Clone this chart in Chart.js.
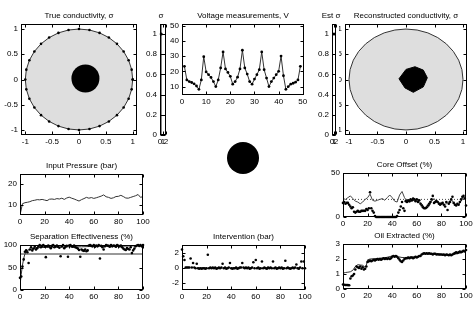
<!DOCTYPE html>
<html><head><meta charset="utf-8">
<script src="https://cdn.jsdelivr.net/npm/chart.js@4.4.1/dist/chart.umd.min.js"></script>
<style>
html,body{margin:0;padding:0;background:#fff}
#root{position:relative;width:474px;height:325px;overflow:hidden;background:#fff}
canvas{position:absolute}
</style></head>
<body><div id="root"></div>
<script>
// ---------------- data ----------------
const ringX = [1,0.981,0.924,0.831,0.707,0.556,0.383,0.195,0,-0.195,-0.383,-0.556,-0.707,-0.831,-0.924,-0.981,-1,-0.981,-0.924,-0.831,-0.707,-0.556,-0.383,-0.195,0,0.195,0.383,0.556,0.707,0.831,0.924,0.981,1];
const ringY = [0,0.195,0.383,0.556,0.707,0.831,0.924,0.981,1,0.981,0.924,0.831,0.707,0.556,0.383,0.195,0,-0.195,-0.383,-0.556,-0.707,-0.831,-0.924,-0.981,-1,-0.981,-0.924,-0.831,-0.707,-0.556,-0.383,-0.195,0];
const trueIncX = [0.12];
const trueIncY = [0.02];
const recIncX = [0,0.158,0.304,0.374,0.304,0.128,-0.018,-0.123,0];
const recIncY = [0.2,0.253,0.186,0.034,-0.146,-0.254,-0.166,0.014,0.2];
const sigmaBarX = [0.4];
const sigmaBarY = [1];
const estBarX = [1];
const estBarY = [1];
const centerDotX = [1];
const centerDotY = [1];

const voltX = [1,2,3,4,5,6,7,8,9,10,11,12,13,14,15,16,17,18,19,20,21,22,23,24,25,26,27,28,29,30,31,32,33,34,35,36,37,38,39,40,41,42,43,44,45,46,47,48,49];
const voltY = [23.3,14.4,13.3,12.7,11.8,10.4,8.2,14.4,29.6,19.6,17.8,16,13.3,10,14.4,22.2,32.7,21.6,19.3,16.7,11.6,13.3,16.2,21.6,33.8,22.2,18.2,13.3,11.6,14.9,17.8,21.1,32.7,21.1,15.6,10,13.3,15.6,17.8,20,30,17.1,8.2,10,11.6,12.2,12.9,14.4,23.3];

const x101 = [0,1,2,3,4,5,6,7,8,9,10,11,12,13,14,15,16,17,18,19,20,21,22,23,24,25,26,27,28,29,30,31,32,33,34,35,36,37,38,39,40,41,42,43,44,45,46,47,48,49,50,51,52,53,54,55,56,57,58,59,60,61,62,63,64,65,66,67,68,69,70,71,72,73,74,75,76,77,78,79,80,81,82,83,84,85,86,87,88,89,90,91,92,93,94,95,96,97,98,99,100];
const x51 = [0,2,4,6,8,10,12,14,16,18,20,22,24,26,28,30,32,34,36,38,40,42,44,46,48,50,52,54,56,58,60,62,64,66,68,70,72,74,76,78,80,82,84,86,88,90,92,94,96,98,100];

const pressureY = [5,10.5,11,11.2,11.5,12,12.2,12.5,12.4,12.6,12.3,12,12.7,12.8,12.6,13,12.8,13.2,12.6,13.3,13.7,13.2,12.8,12.3,11.8,12.5,13,13.6,13.2,13.5,13.1,13.4,13.8,14.2,14.8,13.9,13.6,13.1,13.4,14,14.1,14.6,14,13.3,13.2,13.6,14,14.4,15,13.6,14];

const coreLineY = [21,20,22,24,21,18,17,15,17,20,22,26,19,18,19,20,21,19,22,25,22,18,17,25,29,22,18,17,18,19,20,17,15,11,10,12,18,21,17,16,16,14,15,17,20,16,14,14,18,23,20];
const coreDotY = [16,17,15,16,16,14,12,10,11,6,5,6,7,6,6,7,7,7,7,9,8,10,28,10,7,5,1,0,0,0,0,0,0,0,0,0,0,0,0,0,0,0,0,0,1,5,8,12,17,10,7,18,17,19,18,20,19,21,20,18,20,17,19,15,13,11,10,10,11,13,15,17,20,24,16,17,18,17,15,14,15,16,14,12,17,8,15,17,20,23,16,14,13,15,14,17,20,23,24,21,13];
const coreRefX = [0,100];
const coreRefY = [20,20];

const sepLineX = [0,1,2,3,4,5,6,8,10,15,20,30,40,50,60,70,80,90,100];
const sepLineY = [10,35,55,70,80,85,88,90,92,94,95,95,96,96,97,97,97,98,98];
const sepDotY = [27,30,52,68,85,88,84,60,90,95,88,92,96,90,93,97,100,95,98,100,96,73,97,99,96,93,98,100,95,97,99,96,94,75,97,100,93,96,98,74,99,100,97,96,99,95,94,92,89,74,90,88,87,90,86,88,99,100,98,97,100,96,99,97,100,70,98,95,90,97,100,99,98,96,100,97,99,98,96,100,98,97,99,95,92,90,89,93,91,90,95,82,88,92,97,99,100,98,100,97,100];
const sepRefX = [0,100];
const sepRefY = [80,80];

const intervY = [2.4,1.5,1.0,0,0,0,0,1.2,0,0.6,0,-0.1,0.5,-0.1,-0.15,-0.1,-0.15,-0.1,-0.1,-0.15,-0.1,1.7,-0.1,0,-0.1,0,-0.1,0,-0.15,-0.1,0,-0.1,0,0.5,-0.1,0,-0.15,-0.1,0,0.6,-0.1,-0.15,-0.1,-0.1,0,-0.15,-0.1,0,0,0.6,0,-0.1,0,-0.1,0,-0.15,-0.1,0,0.7,-0.1,1.0,-0.1,0,-0.15,-0.1,0.8,-0.1,0,-0.1,-0.15,0,-0.1,0,-0.1,0.8,-0.1,0,-0.15,-0.1,0,-0.1,0,-0.15,-0.1,0.9,-0.1,0,-0.1,-0.15,-0.1,0,-0.1,0,0.4,-0.1,-0.15,0,0.8,-0.1,0.8,-0.1];

const oilLineX = [0,2,4,6,8,10,12,14,16,18,19,20,22,25,30,35,40,42,45,48,50,55,60,62,65,70,75,80,85,90,95,100];
const oilLineY = [1.05,1.1,1.12,1.15,1.25,1.5,1.62,1.6,1.58,1.45,1.6,1.95,2.0,2.02,2.05,2.1,2.2,2.2,2.15,2.1,2.1,2.12,2.15,2.2,2.35,2.35,2.32,2.3,2.28,2.3,2.4,2.55];
const oilDotY = [0.3,0.28,0.27,0.27,0.26,0.25,0.7,0.85,0.9,1.0,1.3,1.5,1.45,1.4,1.5,1.35,1.45,1.3,1.35,1.5,1.8,1.85,1.9,1.85,1.9,1.95,1.9,1.95,2.0,1.95,2.0,1.95,2.0,2.05,2.0,2.05,2.0,2.05,2.0,2.05,2.15,2.2,2.15,2.2,2.15,2.05,1.95,1.85,1.8,1.9,2.0,2.05,2.05,2.1,2.05,2.1,2.1,2.05,2.1,2.15,2.1,2.15,2.2,2.2,2.3,2.35,2.38,2.35,2.38,2.35,2.38,2.35,2.35,2.3,2.35,2.35,2.3,2.32,2.3,2.3,2.3,2.28,2.3,2.25,2.3,2.28,2.25,2.3,2.25,2.3,2.35,2.4,2.45,2.4,2.45,2.5,2.45,2.5,2.55,2.5,2.6];

// tick labels
const circTicks = [-1,-0.5,0,0.5,1];
const barYTicks = [0,0.2,0.4,0.6,0.8,1];
const barXTicks = [0,1,2];
const voltXTicks = [0,10,20,30,40,50];
const voltYTicks = [10,20,30,40,50];
const pctTicks = [0,20,40,60,80,100];
const pressureTicks = [10,20];
const coreTicks = [0,50];
const sepTicks = [0,50,100];
const intervTicks = [-2,0,2];
const oilTicks = [0,1,2,3];

// ---------------- drawing ----------------
Chart.defaults.font.family = "'Liberation Sans', Arial, Helvetica, sans-serif";
Chart.defaults.font.size = 8;
Chart.defaults.color = '#000';
const root = document.getElementById('root');

const pts = (xs, ys) => xs.map((x, i) => ({x, y: ys[i]}));
const line = (xs, ys, extra) => Object.assign({data: pts(xs, ys), showLine: true, borderColor: '#222', borderWidth: 1, pointRadius: 0, tension: 0}, extra || {});
const dots = (xs, ys, r, extra) => Object.assign({data: pts(xs, ys), showLine: false, pointRadius: r, pointBackgroundColor: '#000', pointBorderWidth: 0, clip: false}, extra || {});
const fmt = v => String(Math.round(v * 100) / 100);

const polyFill = {id: 'polyFill', beforeDatasetsDraw(chart) {
  const ctx = chart.ctx, ds = chart.data.datasets;
  for (let i = ds.length - 1; i >= 0; i--) {
    if (!ds[i].polyFill) continue;
    const p = chart.getDatasetMeta(i).data;
    ctx.save(); ctx.beginPath();
    p.forEach((q, k) => k ? ctx.lineTo(q.x, q.y) : ctx.moveTo(q.x, q.y));
    ctx.closePath(); ctx.fillStyle = ds[i].polyFill; ctx.fill(); ctx.restore();
  }
}};

function boxPlugin(o) {
  return {id: 'mbox', afterDatasetsDraw(chart) {
    if (o.noBox) return;
    const {ctx, chartArea: a, scales} = chart;
    ctx.save(); ctx.strokeStyle = '#000'; ctx.lineWidth = 1;
    const L = Math.round(a.left) + 0.5, R = Math.round(a.right) - 0.5, T = Math.round(a.top) + 0.5, B = Math.round(a.bottom) - 0.5;
    ctx.strokeRect(L, T, R - L, B - T);
    const tl = 3;
    ctx.beginPath();
    scales.x.ticks.forEach(t => { const p = Math.round(scales.x.getPixelForValue(t.value)) + 0.5; ctx.moveTo(p, B); ctx.lineTo(p, B - tl); ctx.moveTo(p, T); ctx.lineTo(p, T + tl); });
    scales.y.ticks.forEach(t => { const p = Math.round(scales.y.getPixelForValue(t.value)) + 0.5; ctx.moveTo(L, p); ctx.lineTo(L + tl, p); ctx.moveTo(R, p); ctx.lineTo(R - tl, p); });
    ctx.stroke(); ctx.restore();
  }, beforeDatasetsDraw(chart) {
    // hide the part of the y labels that the colour bar overlaps
    if (o.coverLeft == null) return;
    chart.ctx.clearRect(0, 0, chart.chartArea.left - o.coverLeft, chart.height);
  }};
}

function axis(min, max, ticks, fit, isX, show) {
  return {type: 'linear', min, max, display: show !== 'none',
    grid: {display: false, drawTicks: false}, border: {display: false},
    ticks: {padding: isX ? 2 : 3, autoSkip: false, maxRotation: 0, minRotation: 0, color: '#000', display: show !== false, callback: fmt},
    afterBuildTicks: s => { s.ticks = ticks.map(v => ({value: v})); },
    afterFit: s => { if (isX) { s.height = fit; s.paddingLeft = 0; s.paddingRight = 0; } else { s.width = fit; s.paddingTop = 0; s.paddingBottom = 0; } }
  };
}

function panel(box, o) {
  const ML = o.ml ?? 30, MR = o.mr ?? 8, MT = o.mt ?? 14, MB = o.mb ?? 16;
  const w = box[2] - box[0] + ML + MR, h = box[3] - box[1] + MT + MB;
  const c = document.createElement('canvas');
  c.width = w; c.height = h;
  c.style.left = (box[0] - ML) + 'px'; c.style.top = (box[1] - MT) + 'px';
  c.style.width = w + 'px'; c.style.height = h + 'px';
  root.appendChild(c);
  const scales = {x: axis(o.x[0], o.x[1], o.xt, MB, true, o.xshow), y: axis(o.y[0], o.y[1], o.yt, ML, false, o.yshow)};
  if (o.sym) {
    scales.yr = {type: 'linear', position: 'right', display: true, grid: {display: false, drawTicks: false}, border: {display: false}, ticks: {display: false},
      afterFit: s => { s.width = MR; s.paddingTop = 0; s.paddingBottom = 0; }};
  }
  new Chart(c, {type: 'scatter', data: {datasets: o.datasets},
    options: {responsive: false, animation: false, events: [], devicePixelRatio: 1,
      layout: {padding: {left: 0, right: o.sym ? 0 : MR, top: o.title ? 0 : MT, bottom: 0}},
      plugins: {legend: {display: false}, tooltip: {enabled: false},
        title: o.title ? {display: true, text: o.title, fullSize: !!o.sym, color: '#000', font: {size: 8, lineHeight: 1, weight: 'normal'}, padding: {top: 2, bottom: 4}} : {display: false}},
      scales
    }, plugins: [polyFill, boxPlugin(o)]});
}

// True conductivity
panel([21, 24, 143, 135], {title: 'True conductivity, σ', x: [-1.08, 1.08], y: [-1.1, 1.1], xt: circTicks, yt: circTicks,
  datasets: [dots(trueIncX, trueIncY, 14),
    line(ringX, ringY, {polyFill: '#dedede', borderColor: '#333', pointRadius: 1.3, pointBackgroundColor: '#000', pointBorderWidth: 0})]});
// sigma colorbar
panel([160, 24, 166, 135], {title: 'σ', sym: true, ml: 16, mr: 12, x: [0, 2], y: [0, 1.1], xt: barXTicks, yt: barYTicks,
  datasets: [dots(sigmaBarX, sigmaBarY, 1.5), line([0.4, 0.4], [0, 1.1], {borderColor: '#555'})]});
// Voltage
panel([182, 24, 304, 95], {title: 'Voltage measurements, V', x: [0, 50.5], y: [4.5, 51], xt: voltXTicks, yt: voltYTicks,
  datasets: [line(voltX, voltY, {borderColor: '#333', pointRadius: 1.4, pointBackgroundColor: '#000', pointBorderWidth: 0})]});
// Reconstructed
panel([345, 24, 467, 135], {title: 'Reconstructed conductivity, σ', mr: 6, coverLeft: 6, x: [-1.07, 1.07], y: [-1.1, 1.1], xt: circTicks, yt: circTicks,
  datasets: [line(recIncX, recIncY, {polyFill: '#000', borderColor: '#000'}),
    line(ringX, ringY, {polyFill: '#dedede', borderColor: '#333'})]});
// Est sigma colorbar
panel([332, 24, 336, 135], {title: 'Est σ', sym: true, ml: 23, mr: 17, x: [0, 2], y: [0, 1.1], xt: barXTicks, yt: barYTicks,
  datasets: [dots(estBarX, estBarY, 1.5), line([0, 1], [1, 1], {borderColor: '#000'})]});
// center disk
panel([223, 138, 263, 178], {ml: 0, mr: 0, mt: 0, mb: 0, noBox: true, x: [0, 2], y: [0, 2], xt: [], yt: [], xshow: 'none', yshow: 'none',
  datasets: [dots(centerDotX, centerDotY, 16)]});
// Input pressure
panel([20, 174, 143, 215], {title: 'Input Pressure (bar)', x: [0, 100], y: [5, 25], xt: pctTicks, yt: pressureTicks,
  datasets: [line(x51, pressureY, {borderColor: '#333'})]});
// Core offset
panel([343, 173, 466, 217], {title: 'Core Offset (%)', x: [0, 100], y: [0, 50], xt: pctTicks, yt: coreTicks,
  datasets: [dots(x101, coreDotY, 1.3), line(x51, coreLineY, {borderColor: '#444'}), line(coreRefX, coreRefY, {borderColor: '#444', borderDash: [1, 2]})]});
// Separation effectiveness
panel([20, 245, 143, 290], {title: 'Separation Effectiveness (%)', x: [0, 100], y: [0, 100], xt: pctTicks, yt: sepTicks,
  datasets: [dots(x101, sepDotY, 1.3), line(sepLineX, sepLineY, {borderColor: '#333'}), line(sepRefX, sepRefY, {borderColor: '#333'})]});
// Intervention
panel([182, 245, 305, 290], {title: 'Intervention (bar)', x: [0, 100], y: [-3, 3], xt: pctTicks, yt: intervTicks,
  datasets: [dots(x101, intervY, 1.3)]});
// Oil extracted
panel([343, 244, 466, 289], {title: 'Oil Extracted (%)', x: [0, 100], y: [0, 3], xt: pctTicks, yt: oilTicks,
  datasets: [dots(x101, oilDotY, 1.3), line(oilLineX, oilLineY, {borderColor: '#333'})]});
</script></body></html>
